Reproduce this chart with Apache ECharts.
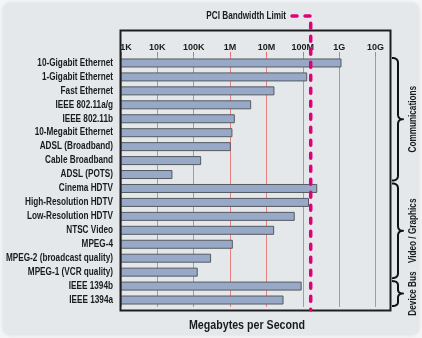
<!DOCTYPE html>
<html>
<head>
<meta charset="utf-8">
<script src="https://cdn.jsdelivr.net/npm/echarts@6/dist/echarts.min.js"></script>
<style>
html,body{margin:0;padding:0;background:#f4f5f6;}
#c{width:422px;height:338px;}
</style>
</head>
<body>
<div id="c"></div>
<script>
const categories = [
  '10-Gigabit Ethernet','1-Gigabit Ethernet','Fast Ethernet','IEEE 802.11a/g','IEEE 802.11b',
  '10-Megabit Ethernet','ADSL (Broadband)','Cable Broadband','ADSL (POTS)',
  'Cinema HDTV','High-Resolution HDTV','Low-Resolution HDTV','NTSC Video','MPEG-4',
  'MPEG-2 (broadcast quality)','MPEG-1 (VCR quality)','IEEE 1394b','IEEE 1394a'
];
const values = [
  1.16e9, 1.32e8, 1.66e7, 3.8e6, 1.35e6,
  1.16e6, 1.05e6, 1.6e5, 2.6e4,
  2.5e8, 1.48e8, 6.0e7, 1.63e7, 1.19e6,
  3.0e5, 1.29e5, 9.3e7, 2.95e7
];
const tickLabels = {1e3:'1K',1e4:'10K',1e5:'100K',1e6:'1M',1e7:'10M',1e8:'100M',1e9:'1G',1e10:'10G'};
const pciLimit = 1.65e8;
const groups = [
  {name:'Communications', from:0, to:8},
  {name:'Video / Graphics', from:9, to:15},
  {name:'Device Bus', from:16, to:17}
];
const axisMin = 1e3, axisMax = 2.5e10;

const FONT = "'Liberation Sans',Arial,sans-serif";
const NARROW = 0.82;
const chart = echarts.init(document.getElementById('c'), null, {renderer:'canvas'});

function labelFor(v){
  const e = Math.round(Math.log10(v));
  const p = Math.pow(10, e);
  if (Math.abs(v - p) / p < 1e-6 && tickLabels[p]) {
    return p === axisMin ? '{first|' + tickLabels[p] + '}' : tickLabels[p];
  }
  return '';
}

const option = {
  animation:false,
  backgroundColor:'transparent',
  grid:{left:121, right:32, top:56, height:251, containLabel:false, outerBoundsMode:'none'},
  xAxis:{
    type:'log', position:'top', min:axisMin, max:axisMax, logBase:10,
    axisLine:{show:false},
    axisTick:{show:true, length:4, lineStyle:{color:'#e66a6a', width:1}},
    axisLabel:{show:true, margin:4, formatter:labelFor, fontFamily:FONT, fontWeight:'bold', fontSize:9, color:'#1a1a1a',
      rich:{first:{padding:[0,0,0,10], fontFamily:FONT, fontWeight:'bold', fontSize:9, color:'#1a1a1a'}}},
    splitLine:{show:true, lineStyle:{color:'#e98080', width:1}},
    minorTick:{show:false}, minorSplitLine:{show:false}
  },
  yAxis:{
    type:'category', data:categories, inverse:true,
    axisLine:{show:false}, axisTick:{show:false},
    axisLabel:{show:false}
  },
  series:[{
    type:'bar', data:values, barWidth:9, clip:true,
    itemStyle:{color:'#97a9c7', borderColor:'#555a60', borderWidth:1}
  }]
};
chart.setOption(option);

function bracePoints(x0, y0, y1, a, w, r){
  const ym = (y0 + y1) / 2;
  const pts = [];
  function quad(p0, c, p1){
    for (let i = 0; i <= 8; i++){
      const t = i / 8, u = 1 - t;
      pts.push([u*u*p0[0] + 2*u*t*c[0] + t*t*p1[0], u*u*p0[1] + 2*u*t*c[1] + t*t*p1[1]]);
    }
  }
  quad([x0, y0], [x0+a, y0], [x0+a, y0+r]);
  pts.push([x0+a, ym-r]);
  quad([x0+a, ym-r], [x0+a, ym], [x0+w, ym]);
  quad([x0+w, ym], [x0+a, ym], [x0+a, ym+r]);
  pts.push([x0+a, y1-r]);
  quad([x0+a, y1-r], [x0+a, y1], [x0, y1]);
  return pts;
}

function draw(){
  const gx0 = 121, gx1 = 390;
  const px = chart.convertToPixel({xAxisIndex:0}, pciLimit);
  const elems = [];
  elems.push({type:'rect', z:-10, silent:true, shape:{x:1.5,y:1.5,width:419,height:335,r:9}, style:{fill:'#e5e8eb', stroke:'#eef0f2', lineWidth:2}});
  elems.push({type:'rect', z:50, silent:true, shape:{x:gx0-0.5,y:30.5,width:gx1-gx0+1,height:280}, style:{fill:null, stroke:'#1e1e1e', lineWidth:2}});
  // category labels
  categories.forEach(c => {
    const y = chart.convertToPixel({yAxisIndex:0}, c);
    elems.push({type:'text', z:60, silent:true, x:113, y:y, scaleX:NARROW, style:{text:c, x:0, y:0, align:'right', verticalAlign:'middle', font:'bold 10px '+FONT, fill:'#1a1a1a'}});
  });
  // PCI limit
  elems.push({type:'polyline', z:60, silent:true, shape:{points:[[292,16],[px,16],[px,310]]}, style:{stroke:'#e0007a', lineWidth:3.5, lineDash:[5,8], lineCap:'round', fill:null}});
  elems.push({type:'text', z:60, silent:true, x:286, y:16, scaleX:NARROW, style:{text:'PCI Bandwidth Limit', x:0, y:0, align:'right', verticalAlign:'middle', font:'bold 10px '+FONT, fill:'#1a1a1a'}});
  // title
  elems.push({type:'text', z:60, silent:true, x:247, y:325, scaleX:NARROW, style:{text:'Megabytes per Second', x:0, y:0, align:'center', verticalAlign:'middle', font:'bold 13px '+FONT, fill:'#1a1a1a'}});
  // braces
  groups.forEach(g => {
    const yTop = chart.convertToPixel({yAxisIndex:0}, categories[g.from]);
    const yBot = chart.convertToPixel({yAxisIndex:0}, categories[g.to]);
    const y0 = yTop - 5, y1 = yBot + 6, ym = (y0 + y1) / 2;
    const r = Math.min(5, (y1 - y0) / 6);
    elems.push({type:'polyline', z:60, silent:true, shape:{points:bracePoints(392, y0, y1, 6, 11, r)}, style:{stroke:'#111', lineWidth:2, fill:null, lineJoin:'round'}});
    elems.push({type:'text', z:60, silent:true, x:413, y:ym, rotation:Math.PI/2, scaleX:NARROW, style:{text:g.name, x:0, y:0, align:'center', verticalAlign:'middle', font:'bold 10px '+FONT, fill:'#1a1a1a'}});
  });
  chart.setOption({graphic:{elements:elems}});
}
draw();
</script>
</body>
</html>
